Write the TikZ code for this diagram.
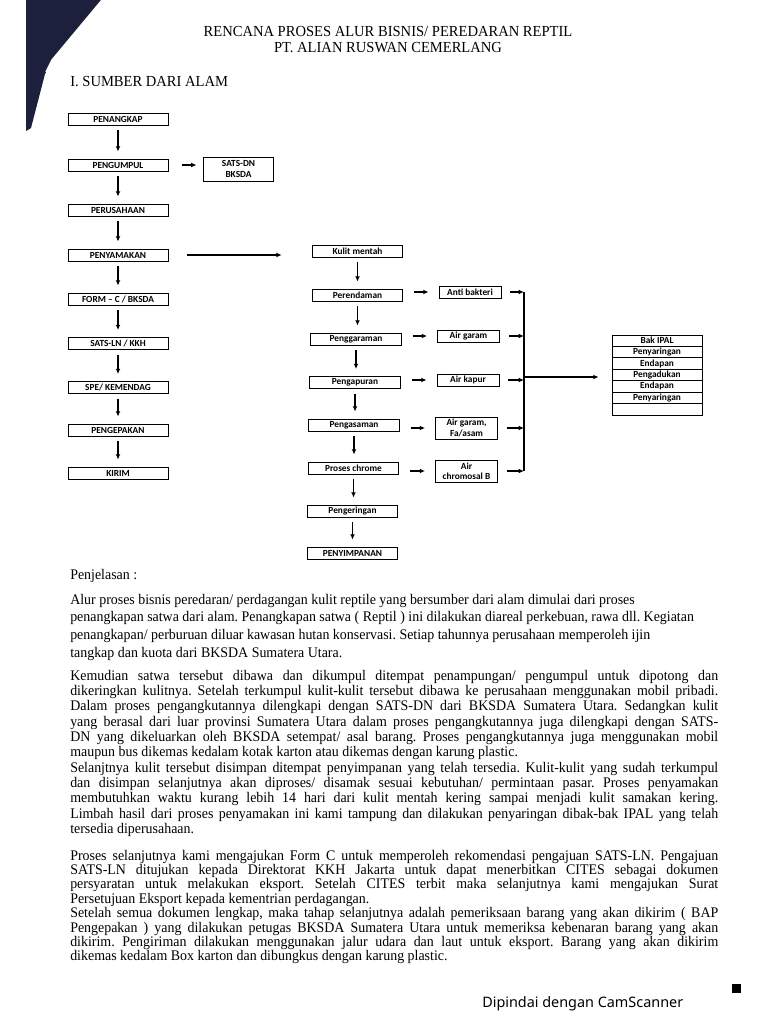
\documentclass[tikz,border=0pt]{standalone}
\usepackage{fontspec}
\setmainfont{Liberation Serif}[FakeStretch=0.95]
\newfontfamily\flowfont{Carlito}
\newfontfamily\scanfont{Noto Sans}
\usepackage{xcolor}
\usetikzlibrary{arrows.meta,calc}

\definecolor{cornernavy}{RGB}{28,32,60}
\newcommand{\jline}[1]{\hbox to 486pt{#1}}
\newcommand{\rline}[1]{\hbox{#1}}
\frenchspacing

\begin{document}
\begin{tikzpicture}[
        x=0.75pt, y=-0.75pt,
        box/.style={draw, line width=0.6pt, inner sep=0pt, align=center,
            font=\flowfont\bfseries\fontsize{7}{7.8}\selectfont},
        leftbox/.style={box, minimum width=75pt, minimum height=9pt},
        midbox/.style={box, minimum width=68pt, minimum height=9pt},
        sidebox/.style={box, minimum width=46.5pt, minimum height=9pt},
        ipalrow/.style={box, minimum width=67.5pt, minimum height=8.6pt},
        arr/.style={-{Latex[length=4pt,width=3.6pt]}, line width=0.8pt},
        down/.style={arr, shorten <=3.75pt, shorten >=5.25pt},
        head/.style={anchor=base, inner sep=0pt, font=\fontsize{11.5}{13}\selectfont},
        body/.style={anchor=base west, inner sep=0pt, font=\fontsize{11}{11.5}\selectfont},
    ]
    \useasboundingbox (0,0) rectangle (768,1024);
    \fill[white] (0,0) rectangle (768,1024);

    % Dark corner of the scan
    \fill[cornernavy] (26,0) -- (102,0) -- (52,60) -- (45,74) -- (31,128) -- (26,131) -- cycle;
    \draw[white, line width=1.1pt] (102,0) -- (52,60) -- (46,72);

    % Titles
    \node[head] (title) at (388,37) {RENCANA PROSES ALUR BISNIS/ PEREDARAN REPTIL};
    \node[head] (company) at (388,53) {PT. ALIAN RUSWAN CEMERLANG};
    \node[head, anchor=base west] (section) at (70,87) {I. SUMBER DARI ALAM};

    % Left column (trade permits)
    \node[leftbox] (penangkap) at (118,119) {PENANGKAP};
    \node[leftbox] (pengumpul) at (118,165) {PENGUMPUL};
    \node[leftbox] (perusahaan) at (118,210) {PERUSAHAAN};
    \node[leftbox] (penyamakan) at (118,255) {PENYAMAKAN};
    \node[leftbox] (formc) at (118,299) {FORM – C / BKSDA};
    \node[leftbox] (satsln) at (118,343.5) {SATS-LN / KKH};
    \node[leftbox] (spe) at (118,387.5) {SPE/ KEMENDAG};
    \node[leftbox] (pengepakan) at (118,430) {PENGEPAKAN};
    \node[leftbox] (kirim) at (118,473) {KIRIM};
    \node[box, minimum width=52pt, minimum height=18pt] (satsdn) at (238.5,169) {SATS-DN\\BKSDA};

    \foreach \a/\b in {penangkap/pengumpul, pengumpul/perusahaan, perusahaan/penyamakan,
                       penyamakan/formc, formc/satsln, satsln/spe, spe/pengepakan, pengepakan/kirim} {
        \draw[down] (\a.south) -- (\a.south |- \b.north);
    }
    \draw[arr, shorten <=10.5pt, shorten >=5.25pt] (pengumpul.east) -- (pengumpul.east -| satsdn.west);

    % Middle column (tanning)
    \node[midbox] (kulit) at (357.5,251) {Kulit mentah};
    \node[midbox] (perendaman) at (357.5,295) {Perendaman};
    \node[midbox] (penggaraman) at (356,339) {Penggaraman};
    \node[midbox] (pengapuran) at (355,382.5) {Pengapuran};
    \node[midbox] (pengasaman) at (354,425) {Pengasaman};
    \node[midbox] (chrome) at (353.5,468) {Proses chrome};
    \node[midbox] (pengeringan) at (352.5,511) {Pengeringan};
    \node[midbox] (penyimpanan) at (352.5,553) {PENYIMPANAN};

    \draw[arr, shorten <=14pt, shorten >=22.5pt] (penyamakan.east) -- (penyamakan.east -| kulit.west);
    \foreach \a/\b in {kulit/perendaman, perendaman/penggaraman, penggaraman/pengapuran,
                       pengapuran/pengasaman, pengasaman/chrome, chrome/pengeringan, pengeringan/penyimpanan} {
        \draw[down] (\a.south) -- (\a.south |- \b.north);
    }

    % Materials used in each step
    \node[sidebox] (antibakteri) at (470,292) {Anti bakteri};
    \node[sidebox] (airgaram) at (468.5,336) {Air garam};
    \node[sidebox] (airkapur) at (468,380) {Air kapur};
    \node[sidebox, minimum height=16.5pt] (airasam) at (466.5,428) {Air garam,\\Fa/asam};
    \node[sidebox, minimum height=16.5pt] (chromosal) at (466.5,471) {Air\\chromosal B};

    % Waste collector line
    \coordinate (bustop) at (524,292);
    \coordinate (busbot) at (524,471);
    \coordinate (busmid) at (524,377);
    \draw[line width=0.8pt] (bustop) -- (busbot);

    \foreach \m/\s in {perendaman/antibakteri, penggaraman/airgaram, pengapuran/airkapur,
                       pengasaman/airasam, chrome/chromosal} {
        \draw[arr, shorten <=8.25pt, shorten >=7.5pt] (\s.west -| \m.east) -- (\s.west);
        \draw[arr, shorten <=6.75pt] (\s.east) -- (\s.east -| bustop);
    }

    % Bak IPAL table
    \foreach \t [count=\i] in {Bak IPAL, Penyaringan, Endapan, Pengadukan, Endapan, Penyaringan, {}} {
        \node[ipalrow] (ipal\i) at (657,{335+11.43*(\i-0.5)}) {\t};
    }
    \draw[arr, shorten >=9.75pt] (busmid) -- (busmid -| ipal4.west);

    % Explanation text
    \node[body] (penjelasan) at (70,579) {Penjelasan :};
    \node[body] (para1) at (70,604) {\vtop{\baselineskip=13.3pt
        \rline{Alur proses bisnis peredaran/ perdagangan kulit reptile yang bersumber dari alam dimulai dari proses}
        \rline{penangkapan satwa dari alam. Penangkapan satwa ( Reptil ) ini dilakukan diareal perkebuan, rawa dll. Kegiatan}
        \rline{penangkapan/ perburuan diluar kawasan hutan konservasi. Setiap tahunnya perusahaan memperoleh ijin}
        \rline{tangkap dan kuota dari BKSDA Sumatera Utara.}}};
    \node[body] (para2) at (70,680) {\vtop{\baselineskip=11.5pt
        \jline{Kemudian satwa tersebut dibawa dan dikumpul ditempat penampungan/ pengumpul untuk dipotong dan}
        \jline{dikeringkan kulitnya. Setelah terkumpul kulit-kulit tersebut dibawa ke perusahaan menggunakan mobil pribadi.}
        \jline{Dalam proses pengangkutannya dilengkapi dengan SATS-DN dari BKSDA Sumatera Utara. Sedangkan kulit}
        \jline{yang berasal dari luar provinsi Sumatera Utara dalam proses pengangkutannya juga dilengkapi dengan SATS-}
        \jline{DN yang dikeluarkan oleh BKSDA setempat/ asal barang. Proses pengangkutannya juga menggunakan mobil}
        \rline{maupun bus dikemas kedalam kotak karton atau dikemas dengan karung plastic.}
        \jline{Selanjtnya kulit tersebut disimpan ditempat penyimpanan yang telah tersedia. Kulit-kulit yang sudah terkumpul}
        \jline{dan disimpan selanjutnya akan diproses/ disamak sesuai kebutuhan/ permintaan pasar. Proses penyamakan}
        \jline{membutuhkan waktu kurang lebih 14 hari dari kulit mentah kering sampai menjadi kulit samakan kering.}
        \jline{Limbah hasil dari proses penyamakan ini kami tampung dan dilakukan penyaringan dibak-bak IPAL yang telah}
        \rline{tersedia diperusahaan.}}};
    \node[body] (para3) at (70,860) {\vtop{\baselineskip=10.8pt
        \jline{Proses selanjutnya kami mengajukan Form C untuk memperoleh rekomendasi pengajuan SATS-LN. Pengajuan}
        \jline{SATS-LN ditujukan kepada Direktorat KKH Jakarta untuk dapat menerbitkan CITES sebagai dokumen}
        \jline{persyaratan untuk melakukan eksport. Setelah CITES terbit maka selanjutnya kami mengajukan Surat}
        \rline{Persetujuan Eksport kepada kementrian perdagangan.}
        \jline{Setelah semua dokumen lengkap, maka tahap selanjutnya adalah pemeriksaan barang yang akan dikirim ( BAP}
        \jline{Pengepakan ) yang dilakukan petugas BKSDA Sumatera Utara untuk memeriksa kebenaran barang yang akan}
        \jline{dikirim. Pengiriman dilakukan menggunakan jalur udara dan laut untuk eksport. Barang yang akan dikirim}
        \rline{dikemas kedalam Box karton dan dibungkus dengan karung plastic.}}};

    % Scanner footer
    \fill (732,984) rectangle (741,993);
    \node[anchor=base west, inner sep=0pt, font=\scanfont\fontsize{10.8}{12}\selectfont] (camscan) at (482,1007) {Dipindai dengan CamScanner};
\end{tikzpicture}
\end{document}
